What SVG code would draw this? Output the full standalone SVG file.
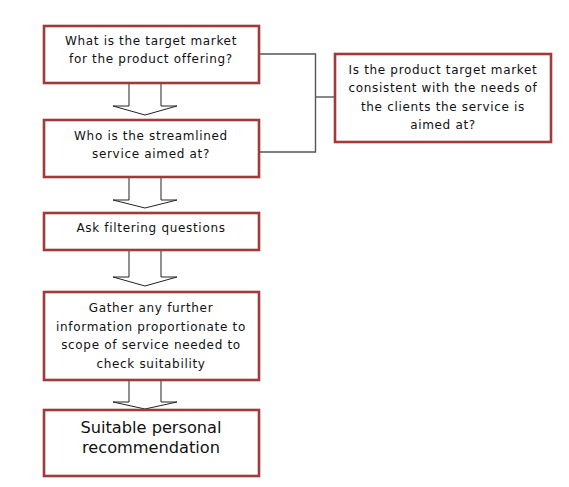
<svg xmlns="http://www.w3.org/2000/svg" width="569" height="487" viewBox="0 0 569 487">
<style>
.box{fill:#fff;stroke:#a23a3c;stroke-width:2.6}
.t{font-family:"DejaVu Sans",Verdana,sans-serif;font-size:12px;fill:#111;text-anchor:middle;letter-spacing:0.68px}
.big{font-size:16.2px;letter-spacing:0}
.arr{fill:#fff;stroke:#222;stroke-width:1}
.con{fill:none;stroke:#555;stroke-width:1.4}
</style>
<rect width="569" height="487" fill="#fff"/>
<g id="connectors">
<path class="arr" d="M129,83 V106 H113 L145,115 L177,106 H161 V83"/>
<path class="arr" d="M129,177 V200 H113 L145,208 L177,200 H161 V177"/>
<path class="arr" d="M129,250 V277 H113 L145,286 L177,277 H161 V250"/>
<path class="arr" d="M129,380 V402 H113 L145,409 L177,402 H161 V380"/>
<path class="con" d="M259,54 H315.5 V152 H259"/>
<path class="con" d="M315.5,97 H334" stroke-width="2"/>
</g>
<g id="n1">
<rect class="box" x="44" y="26" width="215" height="57"/>
<text class="t" x="151" y="44.5">What is the target market</text>
<text class="t" x="151" y="63">for the product offering?</text>
</g>
<g id="n2">
<rect class="box" x="44" y="120" width="215" height="57"/>
<text class="t" x="151" y="139.5">Who is the streamlined</text>
<text class="t" x="151" y="158">service aimed at?</text>
</g>
<g id="n3">
<rect class="box" x="44" y="213" width="215" height="37"/>
<text class="t" x="151" y="231.5">Ask filtering questions</text>
</g>
<g id="n4">
<rect class="box" x="44" y="292" width="215" height="88"/>
<text class="t" x="151" y="311.5">Gather any further</text>
<text class="t" x="151" y="330.5">information proportionate to</text>
<text class="t" x="151" y="349">scope of service needed to</text>
<text class="t" x="151" y="367.5">check suitability</text>
</g>
<g id="n5">
<rect class="box" x="44" y="410" width="215" height="66"/>
<text class="t big" x="151" y="432.5">Suitable personal</text>
<text class="t big" x="151" y="452.5">recommendation</text>
</g>
<g id="n6">
<rect class="box" x="335" y="54" width="216" height="88"/>
<text class="t" x="443" y="73.5">Is the product target market</text>
<text class="t" x="443" y="92">consistent with the needs of</text>
<text class="t" x="443" y="110.5">the clients the service is</text>
<text class="t" x="443" y="129">aimed at?</text>
</g>
</svg>
